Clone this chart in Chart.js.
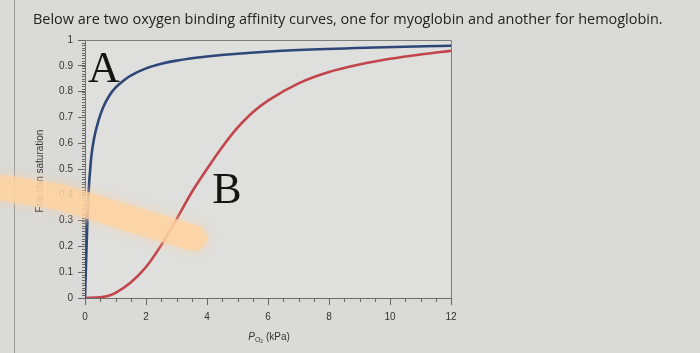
<!DOCTYPE html>
<html>
<head>
<meta charset="utf-8">
<script src="https://cdn.jsdelivr.net/npm/chart.js@4.4.1/dist/chart.umd.min.js"></script>
<style>
  html, body { margin: 0; padding: 0; background: #dadad8; }
  #wrap { width: 700px; height: 353px; position: relative; }
</style>
</head>
<body>
<div id="wrap"><canvas id="c" width="700" height="353"></canvas></div>
<script>
// ---- data ----
const titleText = "Below are two oxygen binding affinity curves, one for myoglobin and another for hemoglobin.";
const yAxisTitle = "Fraction saturation";
const xTickLabels = ["0", "2", "4", "6", "8", "10", "12"];
const yTickLabels = ["0", "0.1", "0.2", "0.3", "0.4", "0.5", "0.6", "0.7", "0.8", "0.9", "1"];
const curveLabels = ["A", "B"];

// Curve A (myoglobin)
const myoPO2 = [0, 0.03, 0.1, 0.2, 0.3, 0.45, 0.6, 0.8, 1.0, 1.3, 1.5, 2.0, 2.5, 3.0, 4.0, 5.0, 7.0, 9.5, 12];
const myoSat = [0, 0.12, 0.37, 0.54, 0.62, 0.69, 0.74, 0.785, 0.815, 0.846, 0.862, 0.89, 0.908, 0.92, 0.936, 0.947, 0.961, 0.971, 0.978];

// Curve B (hemoglobin)
const hbPO2 = [0, 0.5, 0.8, 1.0, 1.5, 2.0, 2.5, 3.0, 3.5, 4.0, 4.5, 5.0, 5.5, 6.0, 7.0, 8.0, 9.0, 10.0, 11.0, 12.0];
const hbSat = [0, 0.003, 0.01, 0.02, 0.06, 0.12, 0.205, 0.305, 0.41, 0.50, 0.585, 0.66, 0.72, 0.765, 0.832, 0.876, 0.905, 0.927, 0.944, 0.958];

const toPoints = (xs, ys) => xs.map((x, i) => ({ x: x, y: ys[i] }));

const decorPlugin = {
  id: 'decor',
  beforeDraw(chart) {
    const ctx = chart.ctx;
    ctx.save();
    ctx.fillStyle = '#dadad8';
    ctx.fillRect(0, 0, chart.width, chart.height);
    // faint left page edge
    ctx.strokeStyle = '#9a9a9a';
    ctx.lineWidth = 1;
    ctx.beginPath(); ctx.moveTo(14.5, 0); ctx.lineTo(14.5, chart.height); ctx.stroke();
    // plot background
    const a = chart.chartArea;
    ctx.fillStyle = '#dfdfdd';
    ctx.fillRect(a.left, a.top, a.right - a.left, a.bottom - a.top);
    ctx.restore();
  },
  afterDraw(chart) {
    const ctx = chart.ctx;
    const a = chart.chartArea;
    const xs = chart.scales.x, ys = chart.scales.y;
    ctx.save();
    // frame top & right
    ctx.strokeStyle = '#7c7c7c';
    ctx.lineWidth = 1;
    ctx.beginPath();
    ctx.moveTo(a.left, Math.round(a.top) + 0.5);
    ctx.lineTo(Math.round(a.right) + 0.5, Math.round(a.top) + 0.5);
    ctx.lineTo(Math.round(a.right) + 0.5, a.bottom);
    ctx.stroke();
    // minor ticks
    ctx.strokeStyle = '#666';
    ctx.beginPath();
    for (let i = 0; i <= 100; i++) {
      const y = Math.round(ys.getPixelForValue(i / 100)) + 0.5;
      ctx.moveTo(a.left - 3, y); ctx.lineTo(a.left, y);
    }
    for (let i = 0; i <= 24; i++) {
      const x = Math.round(xs.getPixelForValue(i / 2)) + 0.5;
      ctx.moveTo(x, a.bottom); ctx.lineTo(x, a.bottom + 4);
    }
    ctx.stroke();

    // title
    ctx.fillStyle = '#222';
    ctx.textBaseline = 'middle';
    ctx.textAlign = 'left';
    let fs = 15;
    ctx.font = fs + 'px "Open Sans"';
    const w = ctx.measureText(titleText).width;
    fs = fs * 630 / w;
    ctx.font = fs.toFixed(2) + 'px "Open Sans"';
    ctx.fillText(titleText, 33, 20);

    // y axis title
    ctx.save();
    ctx.translate(40, 171);
    ctx.rotate(-Math.PI / 2);
    ctx.textAlign = 'center';
    ctx.fillStyle = '#333';
    ctx.font = '10px "Liberation Sans"';
    ctx.fillText(yAxisTitle, 0, 0);
    ctx.restore();

    // x axis title: P(O2) (kPa)
    ctx.fillStyle = '#333';
    ctx.textAlign = 'left';
    const cx = xs.getPixelForValue(6);
    const parts = [
      { t: 'P', f: 'italic 10px "Liberation Sans"', dy: 0 },
      { t: 'O', f: '7px "Liberation Sans"', dy: 3 },
      { t: '2', f: '5px "Liberation Sans"', dy: 5 },
      { t: ' (kPa)', f: '10px "Liberation Sans"', dy: 0 }
    ];
    let tw = 0;
    parts.forEach(p => { ctx.font = p.f; tw += ctx.measureText(p.t).width; });
    let px = cx - tw / 2 + 1;
    parts.forEach(p => { ctx.font = p.f; ctx.fillText(p.t, px, 337 + p.dy); px += ctx.measureText(p.t).width; });

    // curve letters
    ctx.fillStyle = '#151515';
    ctx.font = '44px "Liberation Serif"';
    ctx.textAlign = 'center';
    ctx.textBaseline = 'alphabetic';
    ctx.fillText(curveLabels[0], 104, 82);
    ctx.fillText(curveLabels[1], 227, 203);

    // orange highlighter smear
    ctx.save();
    ctx.globalAlpha = 0.7;
    ctx.strokeStyle = '#ffd3a0';
    ctx.shadowColor = '#ffd3a0';
    ctx.shadowBlur = 12;
    ctx.lineCap = 'round';
    ctx.lineJoin = 'round';
    ctx.lineWidth = 26;
    ctx.beginPath();
    ctx.moveTo(4, 188);
    ctx.lineTo(60, 197);
    ctx.lineTo(115, 214);
    ctx.lineTo(160, 228);
    ctx.lineTo(194, 238);
    ctx.stroke();
    ctx.restore();

    ctx.restore();
  }
};

new Chart(document.getElementById('c'), {
  type: 'line',
  data: {
    datasets: [
      {
        label: 'Myoglobin',
        data: toPoints(myoPO2, myoSat),
        borderColor: '#2f4778',
        borderWidth: 2.6,
        pointRadius: 0,
        cubicInterpolationMode: 'monotone',
        fill: false
      },
      {
        label: 'Hemoglobin',
        data: toPoints(hbPO2, hbSat),
        borderColor: '#c3454c',
        borderWidth: 2.6,
        pointRadius: 0,
        cubicInterpolationMode: 'monotone',
        fill: false
      }
    ]
  },
  options: {
    responsive: false,
    animation: false,
    devicePixelRatio: 1,
    layout: { padding: { left: 0, right: 249, top: 40, bottom: 0 } },
    plugins: { legend: { display: false }, tooltip: { enabled: false }, title: { display: false } },
    scales: {
      x: {
        type: 'linear', min: 0, max: 12,
        afterFit: s => { s.height = 55; },
        afterBuildTicks: s => { s.ticks = xTickLabels.map(v => ({ value: Number(v) })); },
        ticks: {
          callback: (v) => xTickLabels.find(l => Number(l) === v) ?? '',
          font: { family: 'Liberation Sans', size: 10 }, color: '#333', padding: 6, maxRotation: 0
        },
        grid: { drawOnChartArea: false, drawTicks: true, tickLength: 7, color: '#666' },
        border: { display: true, color: '#6e6e6e', width: 1 }
      },
      y: {
        type: 'linear', min: 0, max: 1,
        afterFit: s => { s.width = 85; },
        afterBuildTicks: s => { s.ticks = yTickLabels.map(v => ({ value: Number(v) })); },
        ticks: {
          callback: (v) => yTickLabels.find(l => Math.abs(Number(l) - v) < 1e-9) ?? '',
          font: { family: 'Liberation Sans', size: 10 }, color: '#333', padding: 5
        },
        grid: { drawOnChartArea: false, drawTicks: true, tickLength: 7, color: '#666' },
        border: { display: true, color: '#6e6e6e', width: 1 }
      }
    }
  },
  plugins: [decorPlugin]
});
</script>
</body>
</html>
